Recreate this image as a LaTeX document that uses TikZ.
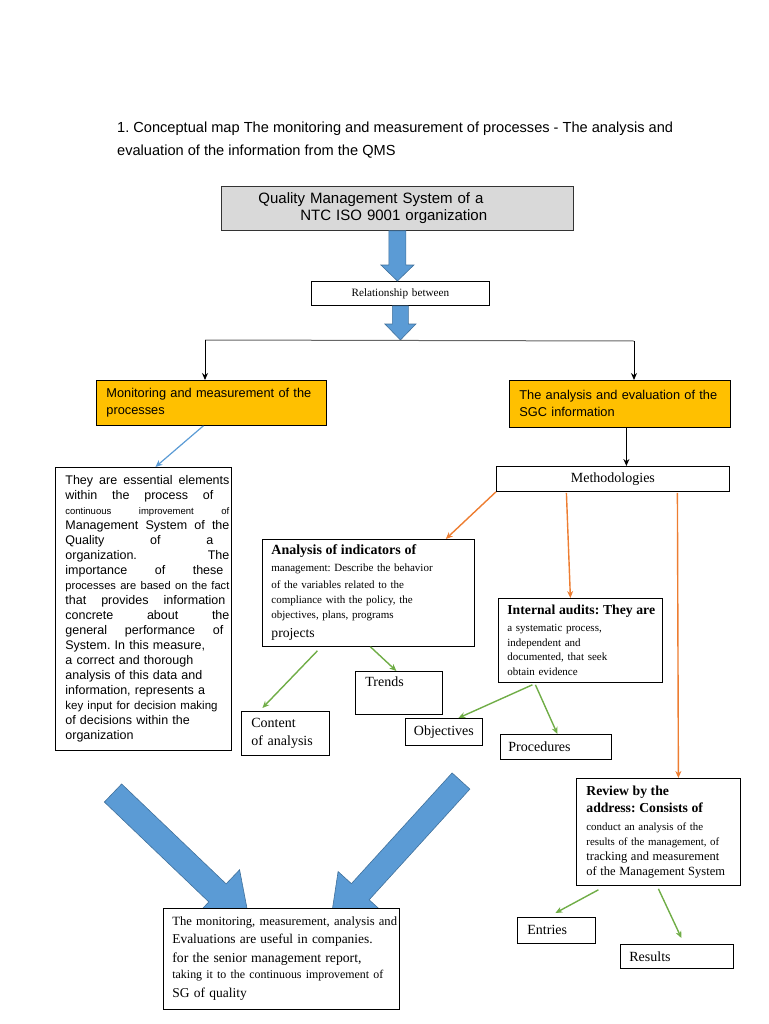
\documentclass[tikz,border=0pt]{standalone}
\usepackage{fontspec}
\setmainfont{Liberation Serif}
\setsansfont{Liberation Sans}
\usetikzlibrary{arrows.meta,calc}

\definecolor{qmsgray}{HTML}{D9D9D9}
\definecolor{boxyellow}{HTML}{FFC000}
\definecolor{arrowblue}{HTML}{5B9BD5}
\definecolor{arrowedge}{HTML}{41719C}
\definecolor{linkorange}{HTML}{ED7D31}
\definecolor{linkgreen}{HTML}{70AD47}

\pgfdeclarelayer{background}
\pgfsetlayers{background,main}

\newcommand{\fs}[2]{\fontsize{#1}{#2}\selectfont}
\newcommand{\jline}[2][164pt]{\makebox[164pt][l]{\spaceskip=0.28em plus 1fil\relax
  \xspaceskip=0.28em plus 1fil\relax\makebox[#1][s]{#2}}}
\newcommand{\fline}[1]{\makebox[164pt][l]{#1}}
% block arrow: from, to, shaft half width, head half width, head length
\newcommand{\blockarrow}[5]{%
  \coordinate (ba-s) at (#1);
  \coordinate (ba-e) at (#2);
  \coordinate (ba-n) at ($(ba-e)!#5!(ba-s)$);
  \filldraw[fatarrow] ($(ba-s)!#3!90:(ba-e)$) -- ($(ba-n)!#3!-90:(ba-s)$)
    -- ($(ba-n)!#4!-90:(ba-s)$) -- (ba-e) -- ($(ba-n)!#4!90:(ba-s)$)
    -- ($(ba-n)!#3!90:(ba-s)$) -- ($(ba-s)!#3!-90:(ba-e)$) -- cycle;}

\begin{document}
\frenchspacing
\begin{tikzpicture}
  [x=1pt,y=-1pt,>={Stealth[length=7pt,width=6pt]},
   every node/.style={inner sep=0pt},
   box/.style={draw,line width=0.8pt,anchor=north west,align=left,fill=white},
   yellowbox/.style={box,fill=boxyellow,font=\sffamily\fs{12.8}{17}},
   labelbox/.style={box,font=\fs{14}{18}},
   fatarrow/.style={fill=arrowblue,draw=arrowedge,line width=0.6pt},
   orangelink/.style={->,linkorange,line width=1.4pt},
   greenlink/.style={->,linkgreen,line width=1.4pt}]
  \useasboundingbox (0,0) rectangle (768,1024);

  \node[anchor=north west,align=left,font=\sffamily\fs{14.6}{23}] (title) at (117,122)
    {1. Conceptual map The monitoring and measurement of processes - The analysis and\\
     evaluation of the information from the QMS};

  \node[box,fill=qmsgray,draw=black!80,font=\sffamily\fs{15}{17},inner xsep=37pt,
    text width=278pt,minimum height=44pt] (qms) at (221,186)
    {Quality Management System of a\\\hspace*{42pt}NTC ISO 9001 organization};
  \node[box,align=center,text width=178pt,minimum height=24pt,font=\fs{11.2}{13}] (rel)
    at (311,281) {Relationship between};

  \node[yellowbox,inner xsep=10pt,text width=210pt,minimum height=45pt] (lyel) at (96,380)
    {Monitoring and measurement of the\\processes};
  \node[yellowbox,inner xsep=10pt,text width=201pt,minimum height=47pt] (ryel) at (509,380)
    {The analysis and evaluation of the\\SGC information};
  \node[box,align=center,text width=233pt,minimum height=25pt,font=\fs{14}{16}] (meth)
    at (496,466) {Methodologies};

  \node[box,align=right,inner xsep=2pt,text width=172pt,minimum height=283pt,
    font=\sffamily\fs{12.5}{15}] (ltext) at (55,467)
    {\jline{They are essential elements}\\
     \jline[148pt]{within the process of}\\
     {\fs{9.5}{15}\jline{continuous improvement of}}\\
     \jline{Management System of the}\\
     \jline[148pt]{Quality of a}\\
     \jline{organization. The}\\
     \jline[158pt]{importance of these}\\
     {\fs{11.1}{15}\jline{processes are based on the fact}}\\
     \jline[160pt]{that provides information}\\
     \jline{concrete about the}\\
     \jline[158pt]{general performance of}\\
     \fline{System. In this measure,}\\
     \fline{a correct and thorough}\\
     \fline{analysis of this data and}\\
     \fline{information, represents a}\\
     {\fs{11.5}{15}\fline{key input for decision making}}\\
     \fline{of decisions within the}\\
     \fline{organization}};

  \node[box,inner xsep=9pt,text width=194pt,minimum height=107pt,font=\fs{11}{15}] (anal)
    at (262,539)
    {{\bfseries\fs{14}{15}Analysis of indicators of}\\[2pt]
     management: Describe the behavior\\[2pt]
     of the variables related to the\\
     compliance with the policy, the\\
     objectives, plans, programs\\[4pt]
     {\fs{13.7}{15}projects}};
  \node[box,inner xsep=9pt,text width=146pt,minimum height=84pt,font=\fs{11}{14.5}] (audit)
    at (498,598)
    {\makebox[146pt][l]{\bfseries\fs{13.7}{15}Internal audits: They are}\\[2.5pt]
     a systematic process,\\
     independent and\\
     documented, that seek\\
     obtain evidence};
  \node[box,inner xsep=10pt,text width=144pt,minimum height=107pt,font=\fs{10.9}{15}] (review)
    at (576,778)
    {{\bfseries\fs{13.7}{15}Review by the}\\[2pt]
     {\bfseries\fs{13.7}{15}address: Consists of}\\[3pt]
     conduct an analysis of the\\
     results of the management, of\\
     {\fs{12.5}{15}tracking and measurement}\\
     {\fs{12.5}{15}of the Management System}};

  \node[labelbox,inner xsep=10pt,text width=68pt,minimum height=44pt] (content)
    at (241,711) {Content\\of analysis};
  \node[labelbox,inner xsep=10pt,text width=67pt,minimum height=43pt,text depth=22pt]
    (trends) at (355,671) {Trends};
  \node[labelbox,align=center,text width=77pt,minimum height=27pt] (obj)
    at (405,718) {Objectives};
  \node[labelbox,inner xsep=8pt,text width=95pt,minimum height=25pt] (proc)
    at (500,734) {Procedures};
  \node[labelbox,inner xsep=10pt,text width=58pt,minimum height=26pt] (entries)
    at (517,917) {Entries};
  \node[labelbox,inner xsep=9pt,text width=95pt,minimum height=24pt] (results)
    at (620,944) {Results};

  \node[box,inner xsep=9pt,text width=218pt,minimum height=101pt,font=\fs{12.6}{15}] (summary)
    at (163,908)
    {\makebox[218pt][l]{The monitoring, measurement, analysis and}\\[3pt]
     {\fs{13.4}{15}Evaluations are useful in companies.}\\[4pt]
     {\fs{13.7}{15}for the senior management report,}\\[1pt]
     {\fs{11.9}{15}taking it to the continuous improvement of}\\[4pt]
     {\fs{13.5}{15}SG of quality}};

  % blue block arrows
  \blockarrow{qms.south}{qms.south |- rel.north}{8.5pt}{16.5pt}{16pt}
  \coordinate (split) at (398,340);
  \blockarrow{rel.south}{rel.south |- split}{8pt}{15.5pt}{16pt}
  \coordinate (lfeed) at (113,793);
  \coordinate (rfeed) at (461,781);
  \begin{pgfonlayer}{background}
    \blockarrow{lfeed}{$(summary.north west)+(87,16)$}{12.5pt}{32pt}{45pt}
    \blockarrow{rfeed}{$(summary.north west)+(167,17)$}{12pt}{30pt}{45pt}
  \end{pgfonlayer}

  % split to the two branches
  \coordinate (lturn) at (205,340);
  \coordinate (rturn) at (634,341);
  \draw[black!60,line width=1pt] (lturn) -- (rturn);
  \draw[->,line width=1pt] (lturn) -- (lturn |- lyel.north);
  \draw[->,line width=1pt] (rturn) -- (rturn |- ryel.north);
  \draw[->,line width=1pt] ([xshift=6.5pt]ryel.south) -- ([xshift=6.5pt]ryel.south |- meth.north);
  \draw[->,arrowblue,line width=1.2pt] ([xshift=-8pt]lyel.south) -- ([xshift=12pt]ltext.north);

  % methodologies
  \draw[orangelink] (meth.south west) -- ([xshift=-29pt]anal.north east);
  \draw[orangelink] ([xshift=-46.5pt,yshift=-1pt]meth.south) -- ([xshift=-10pt]audit.north);
  \draw[orangelink] ([xshift=64.5pt,yshift=-1pt]meth.south) -- ([xshift=20pt]review.north);

  % results of each methodology
  \draw[greenlink] ([xshift=-51pt,yshift=-4pt]anal.south) -- ([xshift=-23pt,yshift=3pt]content.north);
  \draw[greenlink] ([xshift=2pt]anal.south) -- ([xshift=-2.5pt]trends.north);
  \draw[greenlink] ([xshift=-48pt,yshift=-2pt]audit.south) -- ([xshift=14.5pt]obj.north);
  \draw[greenlink] ([xshift=-45pt,yshift=-2pt]audit.south) -- ([xshift=1.5pt]proc.north);
  \draw[greenlink] ([xshift=-60pt,yshift=-4pt]review.south) -- ([xshift=-1pt,yshift=4pt]entries.north);
  \draw[greenlink] ([yshift=-3pt]review.south) -- ([xshift=4.5pt,yshift=6pt]results.north);
\end{tikzpicture}
\end{document}
